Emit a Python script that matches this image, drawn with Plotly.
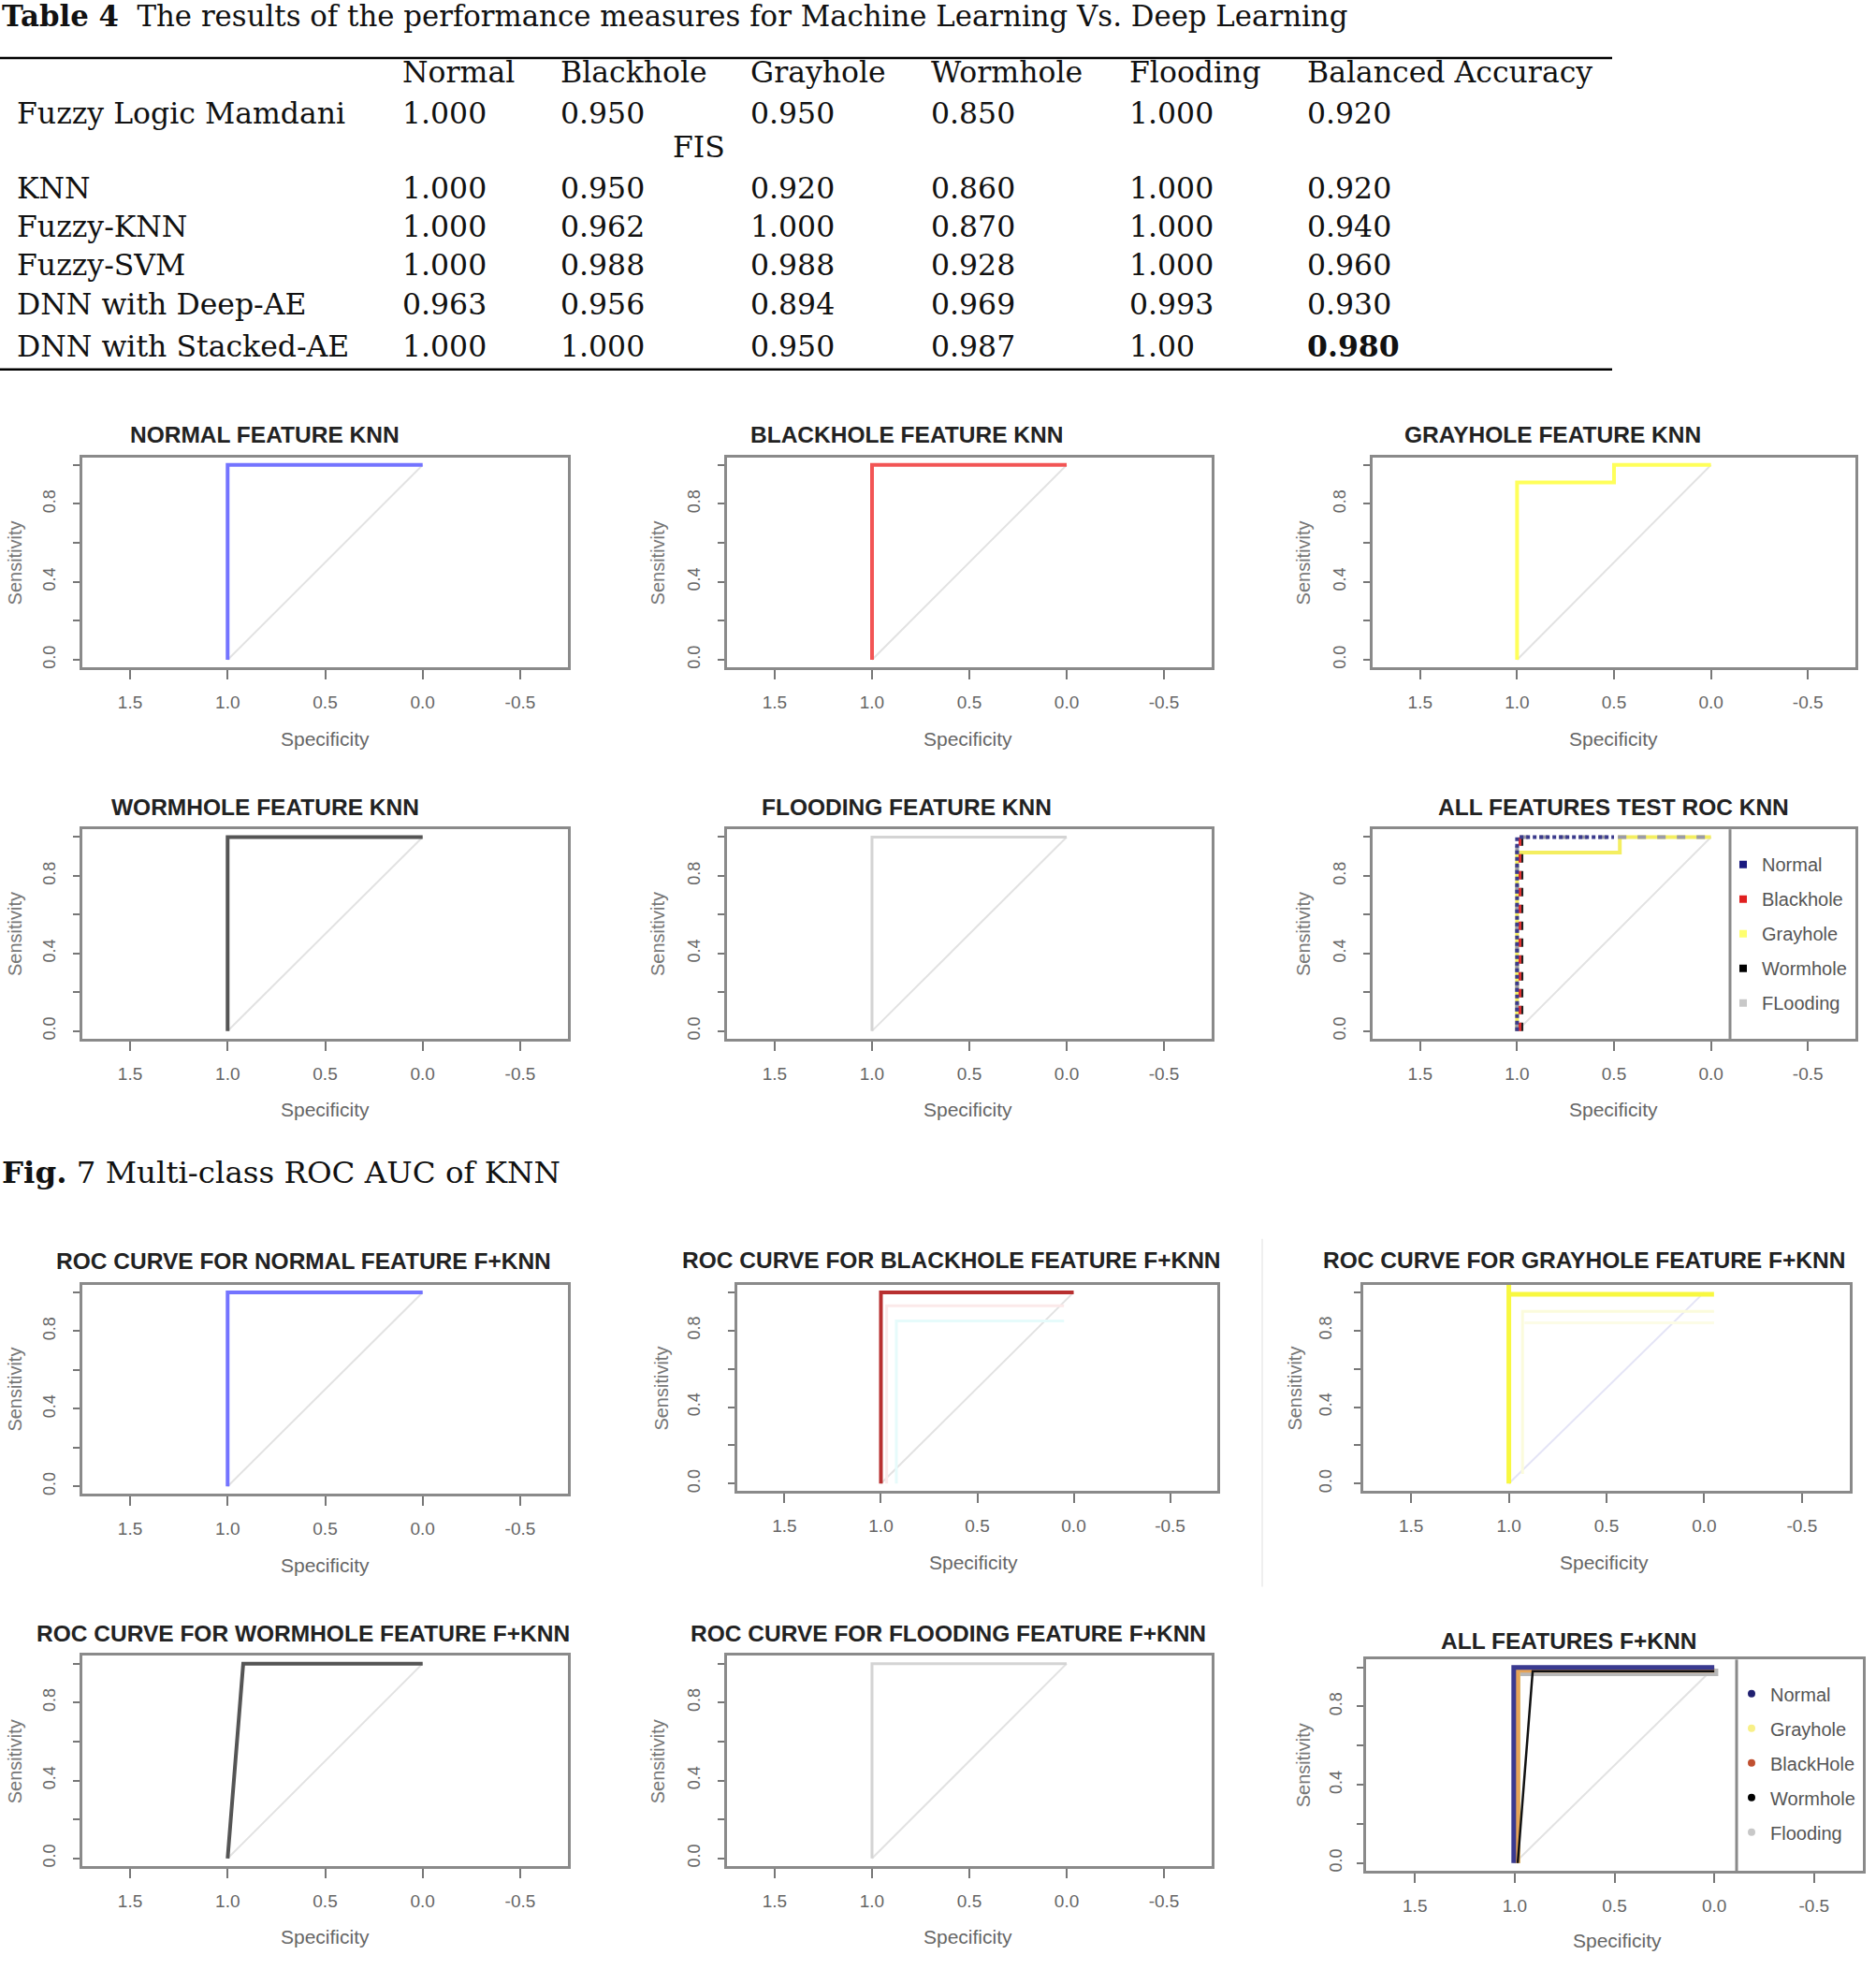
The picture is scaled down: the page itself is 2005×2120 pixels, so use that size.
import plotly.graph_objects as go

W, H = 2005, 2120

# ------------------------------------------------------------------ table data
table_title_label = "Table 4"
table_title_text = "The results of the performance measures for Machine Learning Vs. Deep Learning"
table_headers = ["Normal", "Blackhole", "Grayhole", "Wormhole", "Flooding", "Balanced Accuracy"]
table_methods = ["Fuzzy Logic Mamdani", "KNN", "Fuzzy-KNN", "Fuzzy-SVM",
                 "DNN with Deep-AE", "DNN with Stacked-AE"]
method_continuation = "FIS"
col_normal = ["1.000", "1.000", "1.000", "1.000", "0.963", "1.000"]
col_blackhole = ["0.950", "0.950", "0.962", "0.988", "0.956", "1.000"]
col_grayhole = ["0.950", "0.920", "1.000", "0.988", "0.894", "0.950"]
col_wormhole = ["0.850", "0.860", "0.870", "0.928", "0.969", "0.987"]
col_flooding = ["1.000", "1.000", "1.000", "1.000", "0.993", "1.00"]
col_balanced = ["0.920", "0.920", "0.940", "0.960", "0.930", "0.980"]
best_balanced = "0.980"

caption_label = "Fig."
caption_text = "7 Multi-class ROC AUC of KNN"

# ------------------------------------------------------------------ axis ticks
x_tick_vals = [1.5, 1.0, 0.5, 0.0, -0.5]
x_tick_text = ["1.5", "1.0", "0.5", "0.0", "-0.5"]
y_tick_vals = [0.0, 0.2, 0.4, 0.6, 0.8, 1.0]
y_tick_text = ["0.0", "", "0.4", "", "0.8", ""]

panel_titles = ["NORMAL FEATURE KNN", "BLACKHOLE FEATURE KNN", "GRAYHOLE FEATURE KNN",
                "WORMHOLE FEATURE KNN", "FLOODING FEATURE KNN", "ALL FEATURES TEST ROC KNN",
                "ROC CURVE FOR NORMAL FEATURE F+KNN", "ROC CURVE FOR BLACKHOLE FEATURE F+KNN",
                "ROC CURVE FOR GRAYHOLE FEATURE F+KNN", "ROC CURVE FOR WORMHOLE FEATURE F+KNN",
                "ROC CURVE FOR FLOODING FEATURE F+KNN", "ALL FEATURES F+KNN"]
x_axis_title = "Specificity"
y_axis_title = "Sensitivity"

# ------------------------------------------------------------------ ROC data (specificity, sensitivity)
diag_spec = [1.0, 0.0]
diag_sens = [0.0, 1.0]

knn_normal_spec = [1.0, 1.0, 0.0]
knn_normal_sens = [0.0, 1.0, 1.0]
knn_blackhole_spec = [1.0, 1.0, 0.0]
knn_blackhole_sens = [0.0, 1.0, 1.0]
knn_grayhole_spec = [1.0, 1.0, 0.5, 0.5, 0.0]
knn_grayhole_sens = [0.0, 0.91, 0.91, 1.0, 1.0]
knn_wormhole_spec = [1.0, 1.0, 0.0]
knn_wormhole_sens = [0.0, 1.0, 1.0]
knn_flooding_spec = [1.0, 1.0, 0.0]
knn_flooding_sens = [0.0, 1.0, 1.0]

all_knn_names = ["Normal", "Blackhole", "Grayhole", "Wormhole", "FLooding"]
all_knn_normal_spec = [1.0, 1.0, 0.5]
all_knn_normal_sens = [0.0, 1.0, 1.0]
all_knn_blackhole_spec = [0.985, 0.985]
all_knn_blackhole_sens = [0.0, 1.0]
all_knn_grayhole_spec = [1.0, 1.0, 0.47, 0.47, 0.0]
all_knn_grayhole_sens = [0.0, 0.92, 0.92, 1.0, 1.0]
all_knn_wormhole_spec = [0.975, 0.975]
all_knn_wormhole_sens = [0.0, 1.0]
all_knn_flooding_spec = [1.0, 1.0, 0.0]
all_knn_flooding_sens = [0.0, 1.0, 1.0]

fknn_normal_spec = [1.0, 1.0, 0.0]
fknn_normal_sens = [0.0, 1.0, 1.0]
fknn_blackhole_spec = [1.0, 1.0, 0.0]
fknn_blackhole_sens = [0.0, 1.0, 1.0]
fknn_blackhole_ghost1_spec = [0.97, 0.97, 0.05]
fknn_blackhole_ghost1_sens = [0.0, 0.93, 0.93]
fknn_blackhole_ghost2_spec = [0.92, 0.92, 0.05]
fknn_blackhole_ghost2_sens = [0.0, 0.85, 0.85]
fknn_grayhole_spec = [1.0, 1.0, 1.0, -0.05]
fknn_grayhole_sens = [0.0, 1.04, 0.99, 0.99]
fknn_grayhole_ghost1_spec = [0.93, 0.93, -0.05]
fknn_grayhole_ghost1_sens = [0.05, 0.9, 0.9]
fknn_grayhole_ghost2_spec = [0.92, -0.05]
fknn_grayhole_ghost2_sens = [0.84, 0.84]
fknn_wormhole_spec = [1.0, 0.92, 0.0]
fknn_wormhole_sens = [0.0, 1.0, 1.0]
fknn_flooding_spec = [1.0, 1.0, 0.0]
fknn_flooding_sens = [0.0, 1.0, 1.0]

all_fknn_names = ["Normal", "Grayhole", "BlackHole", "Wormhole", "Flooding"]
all_fknn_flooding_spec = [0.99, 0.99, -0.02]
all_fknn_flooding_sens = [0.0, 0.975, 0.975]
all_fknn_grayhole_spec = [0.98, 0.98, 0.0]
all_fknn_grayhole_sens = [0.0, 0.99, 0.99]
all_fknn_blackhole_spec = [0.985, 0.985, 0.0]
all_fknn_blackhole_sens = [0.0, 0.985, 0.985]
all_fknn_wormhole_spec = [0.985, 0.91, 0.0]
all_fknn_wormhole_sens = [0.0, 0.98, 0.98]
all_fknn_normal_spec = [1.005, 1.005, 0.0]
all_fknn_normal_sens = [0.0, 1.0, 1.0]

# ------------------------------------------------------------------ styles / layout (pixels)
DIAG = dict(color="#e2e2e2", width=2)
panel_curves = [
    [(knn_normal_spec, knn_normal_sens, dict(color="#7474ff", width=4))],
    [(knn_blackhole_spec, knn_blackhole_sens, dict(color="#f25555", width=4))],
    [(knn_grayhole_spec, knn_grayhole_sens, dict(color="#ffff5a", width=4))],
    [(knn_wormhole_spec, knn_wormhole_sens, dict(color="#555555", width=4))],
    [(knn_flooding_spec, knn_flooding_sens, dict(color="#d4d4d4", width=3))],
    [(all_knn_grayhole_spec, all_knn_grayhole_sens, dict(color="#f4ee60", width=4)),
     (all_knn_flooding_spec, all_knn_flooding_sens, dict(color="#9a9aa6", width=4, dash="9px,12px")),
     (all_knn_wormhole_spec, all_knn_wormhole_sens, dict(color="#222222", width=3, dash="dash")),
     (all_knn_blackhole_spec, all_knn_blackhole_sens, dict(color="#e03030", width=3, dash="dash")),
     (all_knn_normal_spec, all_knn_normal_sens, dict(color="#3a3a8c", width=4, dash="4px,3px"))],
    [(fknn_normal_spec, fknn_normal_sens, dict(color="#7474ff", width=4))],
    [(fknn_blackhole_ghost1_spec, fknn_blackhole_ghost1_sens, dict(color="#fbe9e9", width=3)),
     (fknn_blackhole_ghost2_spec, fknn_blackhole_ghost2_sens, dict(color="#e6fbfb", width=3)),
     (fknn_blackhole_spec, fknn_blackhole_sens, dict(color="#b83030", width=4))],
    [(fknn_grayhole_ghost1_spec, fknn_grayhole_ghost1_sens, dict(color="#fbfbdc", width=3)),
     (fknn_grayhole_ghost2_spec, fknn_grayhole_ghost2_sens, dict(color="#fcfce6", width=3)),
     (fknn_grayhole_spec, fknn_grayhole_sens, dict(color="#f8f840", width=5))],
    [(fknn_wormhole_spec, fknn_wormhole_sens, dict(color="#555555", width=4))],
    [(fknn_flooding_spec, fknn_flooding_sens, dict(color="#d4d4d4", width=3))],
    [(all_fknn_flooding_spec, all_fknn_flooding_sens, dict(color="#b8b8b8", width=8)),
     (all_fknn_grayhole_spec, all_fknn_grayhole_sens, dict(color="#e2dc70", width=3)),
     (all_fknn_blackhole_spec, all_fknn_blackhole_sens, dict(color="#e6a458", width=5)),
     (all_fknn_wormhole_spec, all_fknn_wormhole_sens, dict(color="#111111", width=2.5)),
     (all_fknn_normal_spec, all_fknn_normal_sens, dict(color="#3a3a90", width=5))],
]
legend6_colors = ["#1a1a80", "#e02020", "#ffff70", "#000000", "#c8c8c8"]
legend12_colors = ["#202070", "#f8f088", "#c05030", "#000000", "#c8c8c8"]

# box (x0, x1, y0, y1), title centre, x-title centre, y-title centre  (all in pixels)
panel_boxes = [(88, 607, 489, 714), (777, 1295, 489, 714), (1467, 1983, 489, 714),
               (88, 607, 887, 1111), (777, 1295, 887, 1111), (1467, 1983, 887, 1111),
               (88, 607, 1374, 1598), (788, 1301, 1374, 1595), (1457, 1977, 1374, 1595),
               (88, 607, 1771, 1996), (777, 1295, 1771, 1996), (1460, 1991, 1775, 2001)]
title_pos = [(283, 465), (969, 465), (1659, 465), (283, 863), (969, 863), (1724, 863),
             (324, 1349), (1017, 1348), (1693, 1348), (324, 1747), (1013, 1747), (1676, 1755)]
xtitle_pos = [(347, 790), (1034, 790), (1724, 790), (347, 1187), (1034, 1187), (1724, 1187),
              (347, 1674), (1040, 1671), (1714, 1671), (347, 2071), (1034, 2071), (1728, 2075)]
ytitle_pos = [(16, 602), (703, 602), (1393, 602), (16, 999), (703, 999), (1393, 999),
              (16, 1486), (707, 1485), (1384, 1485), (16, 1884), (703, 1884), (1393, 1888)]
ylabel_standoff = [12, 12, 12, 12, 12, 12, 12, 23, 17, 12, 12, 9]


def xp(v):
    return v / W


def yp(v):
    return 1 - v / H


SANS = "Liberation Sans, Arial, sans-serif"
SERIF = "DejaVu Serif, Georgia, serif"

fig = go.Figure()
annotations = []
shapes = []
axes = {}

for i in range(12):
    n = i + 1
    xa = "x" if n == 1 else f"x{n}"
    ya = "y" if n == 1 else f"y{n}"
    x0, x1, y0, y1 = panel_boxes[i]
    axes["xaxis" if n == 1 else f"xaxis{n}"] = dict(
        domain=[xp(x0), xp(x1)], anchor=ya, range=[1.745, -0.745],
        tickmode="array", tickvals=x_tick_vals, ticktext=x_tick_text,
        ticks="outside", ticklen=10, tickwidth=2, tickcolor="#777777",
        ticklabelstandoff=8,
        tickfont=dict(family=SANS, size=19, color="#666666"),
        showline=True, mirror=True, linecolor="#8a8a8a", linewidth=3,
        showgrid=False, zeroline=False, fixedrange=True)
    axes["yaxis" if n == 1 else f"yaxis{n}"] = dict(
        domain=[yp(y1), yp(y0)], anchor=xa, range=[-0.04, 1.04],
        tickmode="array", tickvals=y_tick_vals, ticktext=y_tick_text,
        ticks="outside", ticklen=7, tickwidth=2, tickcolor="#777777",
        tickangle=-90, ticklabelstandoff=ylabel_standoff[i],
        tickfont=dict(family=SANS, size=18, color="#666666"),
        showline=True, mirror=True, linecolor="#8a8a8a", linewidth=3,
        showgrid=False, zeroline=False, fixedrange=True)

    diag_style = dict(DIAG)
    if n == 9:
        diag_style["color"] = "#e4e4f6"
    fig.add_trace(go.Scatter(x=diag_spec, y=diag_sens, mode="lines", line=diag_style,
                             xaxis=xa, yaxis=ya, showlegend=False, hoverinfo="skip"))
    for spec, sens, style in panel_curves[i]:
        fig.add_trace(go.Scatter(x=spec, y=sens, mode="lines", line=style,
                                 xaxis=xa, yaxis=ya, showlegend=False))

    tx, ty = title_pos[i]
    annotations.append(dict(x=xp(tx), y=yp(ty), xref="paper", yref="paper",
                            text=f"<b>{panel_titles[i]}</b>", showarrow=False,
                            xanchor="center", yanchor="middle",
                            font=dict(family=SANS, size=24.5, color="#222222")))
    sx, sy = xtitle_pos[i]
    annotations.append(dict(x=xp(sx), y=yp(sy), xref="paper", yref="paper",
                            text=x_axis_title, showarrow=False,
                            xanchor="center", yanchor="middle",
                            font=dict(family=SANS, size=21, color="#666666")))
    vx, vy = ytitle_pos[i]
    annotations.append(dict(x=xp(vx), y=yp(vy), xref="paper", yref="paper",
                            text=y_axis_title, showarrow=False, textangle=-90,
                            xanchor="center", yanchor="middle",
                            font=dict(family=SANS, size=20, color="#777777")))

# legend entries (marker only)
for name, col in zip(all_knn_names, legend6_colors):
    fig.add_trace(go.Scatter(x=[None], y=[None], mode="markers", name=name,
                             marker=dict(symbol="square", size=8, color=col),
                             xaxis="x6", yaxis="y6", legend="legend",
                             legendgroup="k_" + name, showlegend=True))
for name, col in zip(all_fknn_names, legend12_colors):
    fig.add_trace(go.Scatter(x=[None], y=[None], mode="markers", name=name,
                             marker=dict(symbol="circle", size=8, color=col),
                             xaxis="x12", yaxis="y12", legend="legend2",
                             legendgroup="f_" + name, showlegend=True))

# legend frames (vertical divider inside panels 6 and 12)
shapes.append(dict(type="line", xref="paper", yref="paper", x0=xp(1849), x1=xp(1849),
                   y0=yp(887), y1=yp(1111), line=dict(color="#8a8a8a", width=3)))
shapes.append(dict(type="line", xref="paper", yref="paper", x0=xp(1856), x1=xp(1856),
                   y0=yp(1775), y1=yp(2001), line=dict(color="#8a8a8a", width=3)))
# faint separator between F+KNN panels
shapes.append(dict(type="line", xref="paper", yref="paper", x0=xp(1349), x1=xp(1349),
                   y0=yp(1325), y1=yp(1697), line=dict(color="#efefef", width=2)))

# ------------------------------------------------------------------ table
TFONT = dict(family=SERIF, size=31.5, color="#111111")
annotations.append(dict(x=0, y=yp(17), xref="paper", yref="paper", showarrow=False,
                        xanchor="left", yanchor="middle",
                        text=f"<b>{table_title_label}</b>  {table_title_text}",
                        font=dict(family=SERIF, size=30.8, color="#111111")))
shapes.append(dict(type="line", xref="paper", yref="paper", x0=0, x1=xp(1723),
                   y0=yp(62), y1=yp(62), line=dict(color="#000000", width=2.5)))
shapes.append(dict(type="line", xref="paper", yref="paper", x0=0, x1=xp(1723),
                   y0=yp(395), y1=yp(395), line=dict(color="#000000", width=2.5)))

col_x = [428, 597, 800, 993, 1205, 1395]
row_y = [121, 201, 242, 283, 325, 370]
header_y = 77
for cx, head in zip(col_x, table_headers):
    annotations.append(dict(x=xp(cx), y=yp(header_y), xref="paper", yref="paper",
                            showarrow=False, xanchor="left", yanchor="middle",
                            text=head, font=TFONT))
columns = [col_normal, col_blackhole, col_grayhole, col_wormhole, col_flooding, col_balanced]
for r, method in enumerate(table_methods):
    annotations.append(dict(x=xp(16), y=yp(row_y[r]), xref="paper", yref="paper",
                            showarrow=False, xanchor="left", yanchor="middle",
                            text=method, font=TFONT))
    for cx, col in zip(col_x, columns):
        txt = col[r]
        if col is col_balanced and r == len(table_methods) - 1:
            txt = f"<b>{best_balanced}</b>"
        annotations.append(dict(x=xp(cx), y=yp(row_y[r]), xref="paper", yref="paper",
                                showarrow=False, xanchor="left", yanchor="middle",
                                text=txt, font=TFONT))
annotations.append(dict(x=xp(747), y=yp(157), xref="paper", yref="paper",
                        showarrow=False, xanchor="center", yanchor="middle",
                        text=method_continuation, font=TFONT))

# caption
annotations.append(dict(x=0, y=yp(1254), xref="paper", yref="paper", showarrow=False,
                        xanchor="left", yanchor="middle",
                        text=f"<b>{caption_label}</b> {caption_text}",
                        font=dict(family=SERIF, size=32.5, color="#111111")))

legend_common = dict(xanchor="left", yanchor="top", orientation="v",
                     bgcolor="rgba(0,0,0,0)", borderwidth=0, itemwidth=30,
                     tracegroupgap=8, itemclick=False, itemdoubleclick=False,
                     font=dict(family=SANS, size=20, color="#555555"))

fig.update_layout(
    width=W, height=H, margin=dict(l=0, r=0, t=0, b=0),
    paper_bgcolor="white", plot_bgcolor="white",
    annotations=annotations, shapes=shapes,
    legend=dict(x=xp(1843), y=yp(905), **legend_common),
    legend2=dict(x=xp(1852), y=yp(1792), **legend_common),
    **axes,
)

fig.write_html("out.html")
